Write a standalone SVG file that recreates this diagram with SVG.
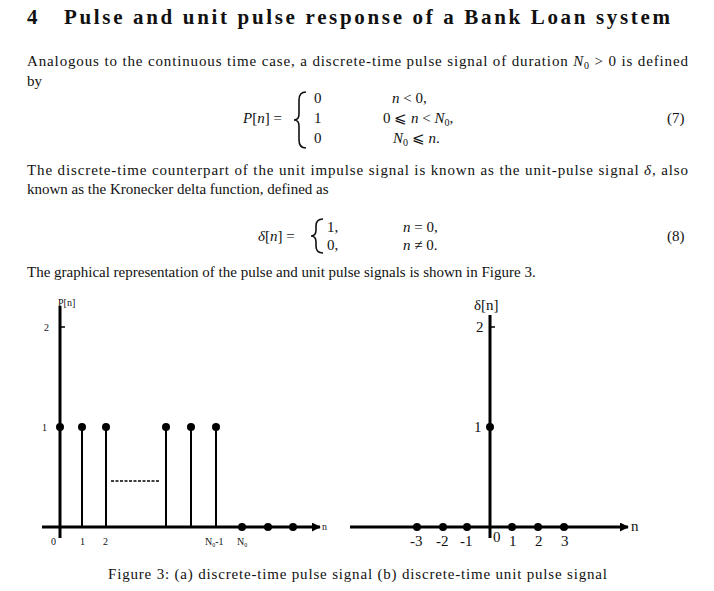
<svg xmlns="http://www.w3.org/2000/svg" width="714" height="591" viewBox="0 0 714 591">
<defs>
<style>
.t{font-family:"Liberation Serif",serif;font-size:15px;fill:#111}
.m{font-family:"Liberation Serif",serif;font-size:15px;font-style:italic;fill:#111}
.s{font-family:"Liberation Serif",serif;font-size:10px;fill:#111}
.ax{stroke:#000;stroke-width:3;fill:none}
.st{stroke:#000;stroke-width:2}
.br{fill:none;stroke:#111;stroke-width:1.6}
</style>
<marker id="ar" viewBox="0 0 10 10" refX="9" refY="5" markerWidth="3" markerHeight="3" orient="auto"><path d="M0,0L10,5L0,10z" fill="#000"/></marker>
</defs>
<rect width="714" height="591" fill="#fff"/>
<text x="27" y="24" font-family="Liberation Serif,serif" font-size="21" font-weight="bold" fill="#111">4</text>
<text x="64" y="24" font-family="Liberation Serif,serif" font-size="21" font-weight="bold" fill="#111" textLength="606" lengthAdjust="spacing">Pulse and unit pulse response of a Bank Loan system</text>
<text class="t" x="27" y="66" textLength="661" lengthAdjust="spacing">Analogous to the continuous time case, a discrete-time pulse signal of duration <tspan font-style="italic">N</tspan><tspan font-size="10" dy="3">0</tspan><tspan dy="-3"> &gt; 0 is defined</tspan></text>
<text class="t" x="27" y="86">by</text>
<text class="t" x="243" y="123"><tspan font-style="italic">P</tspan>[<tspan font-style="italic">n</tspan>] =</text>
<path class="br" d="M306,92 Q299,92 299,100 L299,114 Q299,120 294,120 Q299,120 299,126 L299,140 Q299,148 306,148"/>
<text class="t" x="314" y="103">0</text><text class="t" x="314" y="123">1</text><text class="t" x="314" y="143">0</text>
<text class="t" x="392" y="103"><tspan font-style="italic">n</tspan> &lt; 0,</text>
<text class="t" x="383" y="123">0 ⩽ <tspan font-style="italic">n</tspan> &lt; <tspan font-style="italic">N</tspan><tspan font-size="10" dy="3">0</tspan><tspan dy="-3">,</tspan></text>
<text class="t" x="393" y="143"><tspan font-style="italic">N</tspan><tspan font-size="10" dy="3">0</tspan><tspan dy="-3"> ⩽ </tspan><tspan font-style="italic">n</tspan>.</text>
<text class="t" x="667" y="123">(7)</text>
<text class="t" x="27" y="175" textLength="661" lengthAdjust="spacing">The discrete-time counterpart of the unit impulse signal is known as the unit-pulse signal <tspan font-style="italic">δ</tspan>, also</text>
<text class="t" x="27" y="194">known as the Kronecker delta function, defined as</text>
<text class="t" x="258" y="241"><tspan font-style="italic">δ</tspan>[<tspan font-style="italic">n</tspan>] =</text>
<path class="br" d="M323,219 Q316,219 316,226 L316,230 Q316,236 311,236 Q316,236 316,242 L316,246 Q316,253 323,253"/>
<text class="t" x="327" y="232">1,</text><text class="t" x="327" y="250">0,</text>
<text class="t" x="403" y="232"><tspan font-style="italic">n</tspan> = 0,</text>
<text class="t" x="403" y="250"><tspan font-style="italic">n</tspan> ≠ 0.</text>
<text class="t" x="667" y="241">(8)</text>
<text class="t" x="27" y="277">The graphical representation of the pulse and unit pulse signals is shown in Figure 3.</text>

<g id="plot-a">
<line class="ax" x1="42" y1="527" x2="320" y2="527" marker-end="url(#ar)"/>
<line class="ax" x1="60" y1="538" x2="60" y2="306"/>
<line x1="60" y1="327" x2="65" y2="327" stroke="#000" stroke-width="1.5"/>
<g class="st">
<line x1="82" y1="427" x2="82" y2="527"/><line x1="106" y1="427" x2="106" y2="527"/>
<line x1="166" y1="427" x2="166" y2="527"/><line x1="191" y1="427" x2="191" y2="527"/><line x1="216" y1="427" x2="216" y2="527"/>
</g>
<g fill="#000">
<circle cx="60" cy="427" r="4"/><circle cx="82" cy="427" r="4"/><circle cx="106" cy="427" r="4"/>
<circle cx="166" cy="427" r="4"/><circle cx="191" cy="427" r="4"/><circle cx="216" cy="427" r="4"/>
<circle cx="242" cy="527" r="4"/><circle cx="268" cy="527" r="4"/><circle cx="293" cy="527" r="4"/>
</g>
<line x1="111" y1="481" x2="160" y2="481" stroke="#000" stroke-width="1.5" stroke-dasharray="3,1.5"/>
<text class="s" x="58" y="306">P[n]</text>
<text class="s" x="44" y="331">2</text><text class="s" x="42" y="431">1</text>
<text class="s" x="51" y="545">0</text><text class="s" x="80" y="545">1</text><text class="s" x="103" y="545">2</text>
<text class="s" x="205" y="545">N<tspan font-size="6" dy="2">0</tspan><tspan dy="-2">-1</tspan></text>
<text class="s" x="237" y="545">N<tspan font-size="6" dy="2">0</tspan></text>
<text class="s" x="322" y="530">n</text>
</g>

<g id="plot-b">
<line class="ax" x1="350" y1="527" x2="628" y2="527" marker-end="url(#ar)"/>
<line class="ax" x1="490" y1="538" x2="490" y2="315"/>
<line x1="490" y1="327" x2="495" y2="327" stroke="#000" stroke-width="1.5"/>
<g fill="#000">
<circle cx="490" cy="427" r="4"/>
<circle cx="417" cy="527" r="4"/><circle cx="443" cy="527" r="4"/><circle cx="467" cy="527" r="4"/>
<circle cx="512" cy="527" r="4"/><circle cx="538" cy="527" r="4"/><circle cx="564" cy="527" r="4"/>
</g>
<text class="t" x="474" y="310" font-size="13">δ[n]</text>
<text class="t" x="476" y="332" font-size="13">2</text><text class="t" x="474" y="432" font-size="13">1</text>
<text class="t" x="410" y="546" font-size="13">-3</text><text class="t" x="436" y="546" font-size="13">-2</text><text class="t" x="460" y="546" font-size="13">-1</text>
<text class="t" x="493" y="542" font-size="13">0</text>
<text class="t" x="509" y="546" font-size="13">1</text><text class="t" x="535" y="546" font-size="13">2</text><text class="t" x="561" y="546" font-size="13">3</text>
<text class="t" x="631" y="531" font-size="13">n</text>
</g>
<text class="t" x="108" y="579" textLength="499" lengthAdjust="spacing">Figure 3: (a) discrete-time pulse signal (b) discrete-time unit pulse signal</text>
</svg>
